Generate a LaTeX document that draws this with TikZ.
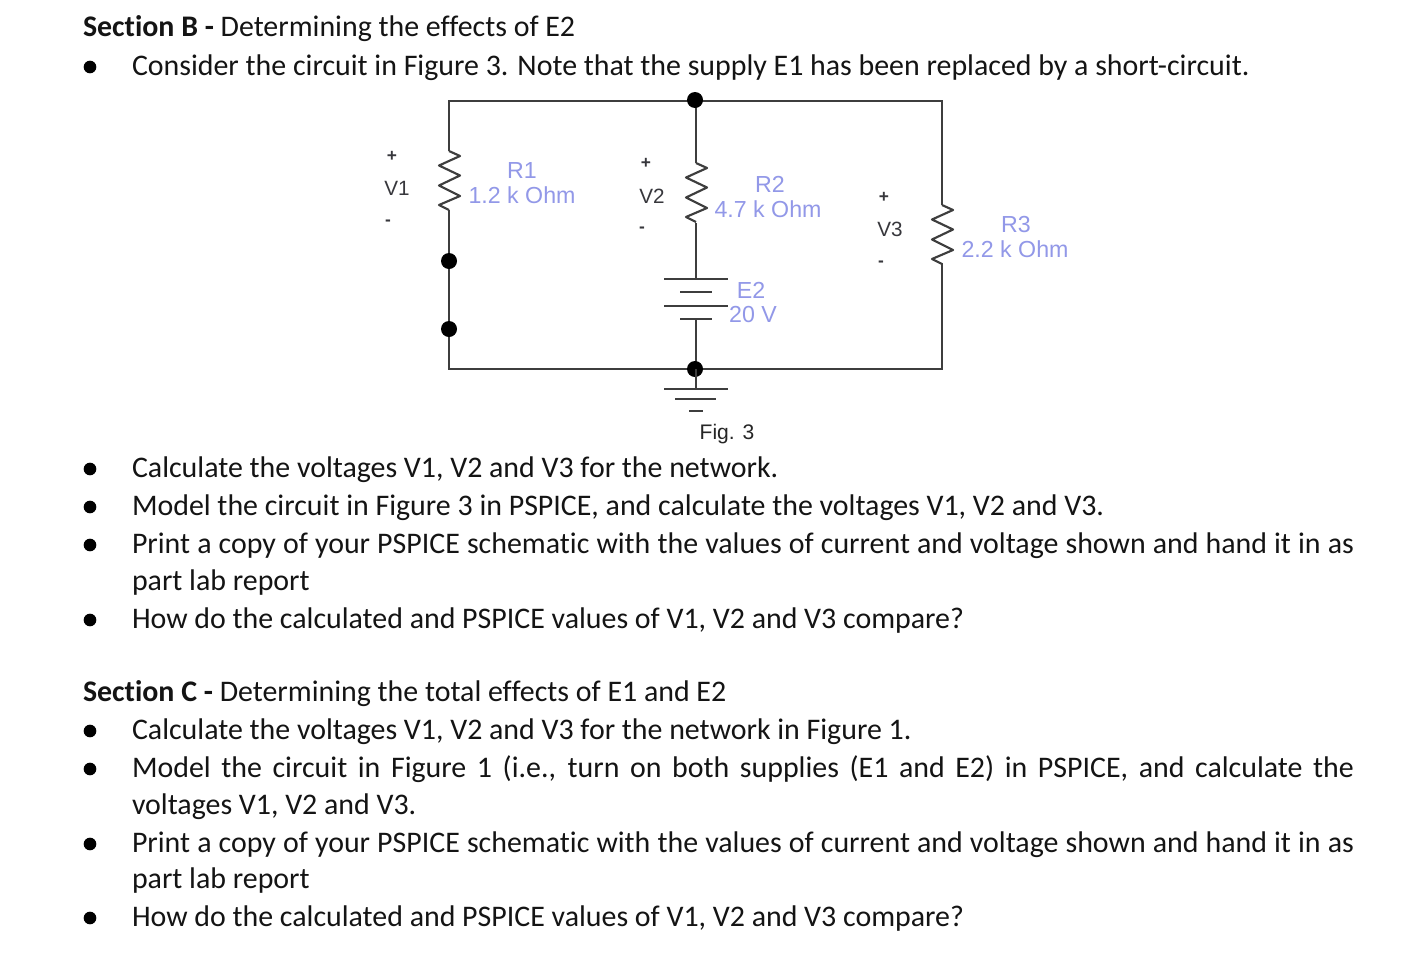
\documentclass[tikz,border=0pt]{standalone}
\usepackage{fontspec}
\setmainfont[RawFeature={-liga}]{Carlito}
\newfontfamily\labelfont{Liberation Sans}
\definecolor{wire}{RGB}{62,62,62}
\definecolor{partblue}{RGB}{146,152,232}
\definecolor{meas}{RGB}{55,55,60}
\newdimen\pgfxx \pgfxx=0.75pt
\newcommand{\JL}[1]{\makebox[1222\pgfxx][s]{#1}}
\begin{document}
\begin{tikzpicture}[x=0.75pt,y=-0.75pt,
  txt/.style={anchor=base west,inner sep=0pt,outer sep=0pt,yshift=-0.6pt,font=\fontsize{22.42}{26}\selectfont,text=black!92},
  bul/.style={circle,fill=black,inner sep=0pt,minimum size=9.5pt},
  junction/.style={circle,fill=black,inner sep=0pt,minimum size=12pt},
  wr/.style={draw=wire,line width=2pt,line join=miter},
  thinwr/.style={draw=wire,line width=1.6pt},
  part/.style={font=\labelfont\fontsize{17.4}{20}\selectfont,text=partblue,inner sep=0pt,yshift=-0.5pt},
  volt/.style={font=\labelfont\fontsize{15.5}{18}\selectfont,text=meas,inner sep=0pt},
  sgn/.style={font=\labelfont\bfseries\fontsize{13}{14}\selectfont,text=meas,inner sep=0pt},
  figl/.style={font=\labelfont\fontsize{15.8}{18}\selectfont,text=black!85,inner sep=0pt}]
\useasboundingbox[fill=white] (0,0) rectangle (1426,964);
% text
\node[txt] (t1) at (83,36) {\textbf{Section B -} Determining the effects of E2};
\node[txt] (t2) at (132,75) {Consider the circuit in Figure 3. Note that the supply E1 has been replaced by a short-circuit.};
\node[txt] (t3) at (132,477) {Calculate the voltages V1, V2 and V3 for the network.};
\node[txt] (t4) at (132,515) {Model the circuit in Figure 3 in PSPICE, and calculate the voltages V1, V2 and V3.};
\node[txt] (t5) at (132,553) {\JL{Print a copy of your PSPICE schematic with the values of current and voltage shown and hand it in as}};
\node[txt] (t6) at (132,590) {part lab report};
\node[txt] (t7) at (132,628) {How do the calculated and PSPICE values of V1, V2 and V3 compare?};
\node[txt] (t8) at (83,701) {\textbf{Section C -} Determining the total effects of E1 and E2};
\node[txt] (t9) at (132,739) {Calculate the voltages V1, V2 and V3 for the network in Figure 1.};
\node[txt] (t10) at (132,777) {\JL{Model the circuit in Figure 1 (i.e., turn on both supplies (E1 and E2) in PSPICE, and calculate the}};
\node[txt] (t11) at (132,814) {voltages V1, V2 and V3.};
\node[txt] (t12) at (132,852) {\JL{Print a copy of your PSPICE schematic with the values of current and voltage shown and hand it in as}};
\node[txt] (t13) at (132,888) {part lab report};
\node[txt] (t14) at (132,926) {How do the calculated and PSPICE values of V1, V2 and V3 compare?};
\foreach \n/\y in {b1/67,b2/469,b3/507,b4/545,b5/620,b6/731,b7/769,b8/844,b9/918}
  \node[bul] (\n) at (90,\y) {};
% circuit anchors
\coordinate (tl) at (449,101);
\coordinate (tr) at (942,101);
\coordinate (bl) at (449,369);
\coordinate (br) at (942,369);
\coordinate (jt) at (696,101);
\coordinate (jb) at (696,369);
\coordinate (j1) at (449,261);
\coordinate (j2) at (449,329);
\coordinate (r1a) at (449,151);
\coordinate (r1b) at (449,210);
\coordinate (r2a) at (696,163);
\coordinate (r2b) at (696,223);
\coordinate (r3a) at (942,205);
\coordinate (r3b) at (942,263);
\coordinate (e2a) at (696,279);
\coordinate (e2b) at (696,319);
\coordinate (g1) at (696,389);
% wires
\draw[wr] (r1a) -- (tl) -- (jt) -- (tr) -- (r3a);
\draw[wr] (r3b) -- (br) -- (bl) -- (j2) -- (j1) -- (r1b);
\draw[wr] (jt) -- (r2a);
\draw[wr] (r2b) -- (e2a);
\draw[wr] (e2b) -- (jb);
% dots
\node[junction] (d1) at (695,100) {};
\node[junction] (d2) at (695,369) {};
\node[junction] (d3) at (449,261) {};
\node[junction] (d4) at (449,329) {};
\draw[wr] (jb) -- (g1);
% resistors
\foreach \c in {r1a,r2a,r3a}
  \draw[thinwr,line join=round] (\c) -- ++(11,5) -- ++(-21,9.5) -- ++(21,10) -- ++(-21,10) -- ++(21,10.5) -- ++(-21,9) -- ++(10,5);
% battery
\draw[thinwr] (664,279) -- (728,279);
\draw[thinwr] (680,292) -- (712,292);
\draw[thinwr] (664,306) -- (728,306);
\draw[thinwr] (680,319) -- (712,319);
% ground
\draw[thinwr] (664,389) -- (728,389);
\draw[thinwr] (675,399) -- (716,399);
\draw[thinwr] (689,411) -- (703,411);
% labels
\node[part] (R1n) at (522,170) {R1};
\node[part] (R1v) at (522,195) {1.2 k Ohm};
\node[part] (R2n) at (770,184) {R2};
\node[part] (R2v) at (768,209) {4.7 k Ohm};
\node[part] (R3n) at (1016,224) {R3};
\node[part] (R3v) at (1015,249) {2.2 k Ohm};
\node[part] (E2n) at (751,290) {E2};
\node[part] (E2v) at (753,314) {20 V};
\node[volt] (V1) at (397,188) {V1};
\node[volt] (V2) at (652,196) {V2};
\node[volt] (V3) at (890,229) {V3};
\node[sgn] (p1) at (392,156) {+};
\node[sgn] (m1) at (388,223) {-};
\node[sgn] (p2) at (646,163) {+};
\node[sgn] (m2) at (642,230) {-};
\node[sgn] (p3) at (884,197) {+};
\node[sgn] (m3) at (881,264) {-};
\node[figl] (fig) at (727,434) {Fig. 3};
\end{tikzpicture}
\end{document}
